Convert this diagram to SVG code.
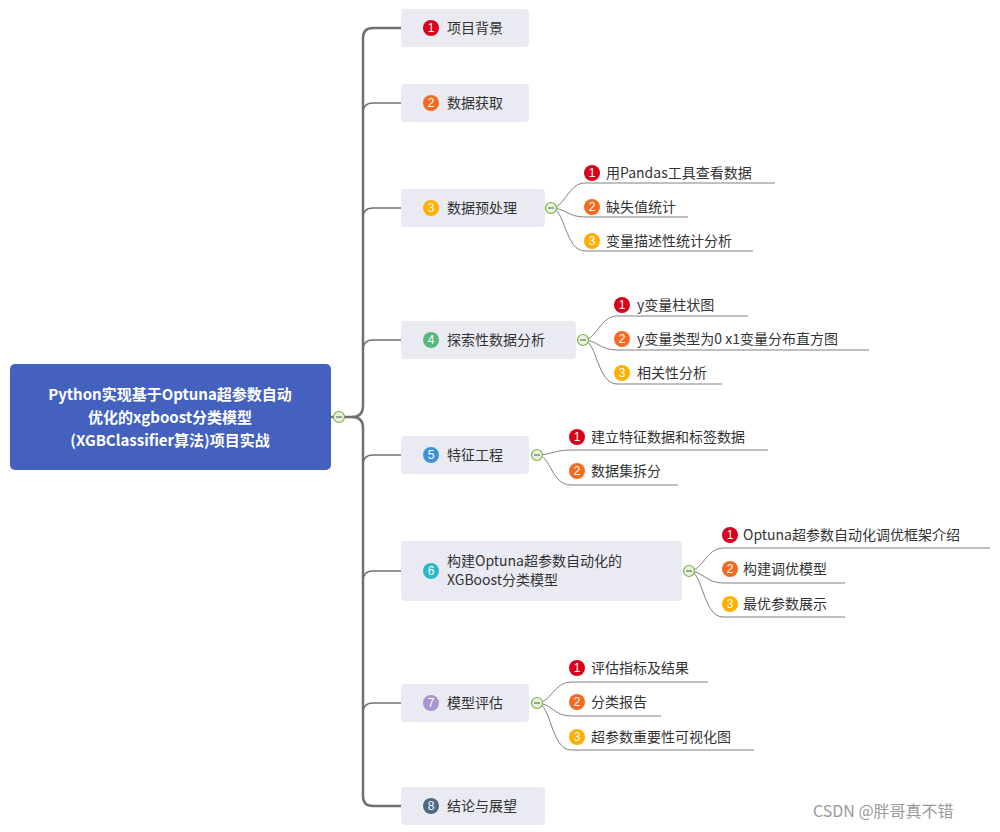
<svg xmlns="http://www.w3.org/2000/svg" width="1000" height="832" viewBox="0 0 1000 832">
<style>
text{font-family:"Noto Sans CJK SC","Liberation Sans",sans-serif;font-size:14px;fill:#333}
.box{fill:#e9eaf2}
.n{fill:#fff;font-size:12px;text-anchor:middle;font-family:"Liberation Sans",sans-serif}
.tr{fill:none;stroke:#707070;stroke-width:2.5}
.br{fill:none;stroke:#707070;stroke-width:1.5}
.ch{fill:none;stroke:#808080;stroke-width:1}
.col{fill:#e8f3dc;stroke:#7cb342;stroke-width:1.2}
</style>
<rect width="1000" height="832" fill="#fff"/>
<g id="connectors">
<path class="tr" d="M331,417 H352 Q363,417 363,406 V38 Q363,28 373,28 H401"/>
<path class="tr" d="M352,417 Q363,417 363,428 V796 Q363,806 373,806 H401"/>
<path class="br" d="M363,113 Q363,103 373,103 H401 M363,218 Q363,208 373,208 H401 M363,350 Q363,340 373,340 H401 M363,465 Q363,455 373,455 H401 M363,581 Q363,571 373,571 H401 M363,713 Q363,703 373,703 H401"/>
<path class="ch" d="M551,208 C565,208 568,183 585,183 H775 M551,208 C565,208 568,217 585,217 H688 M551,208 C565,208 565,251 585,251 H753"/>
<path class="ch" d="M583,340 C597,340 600,316 617,316 H748 M583,340 C597,340 600,350 617,350 H869 M583,340 C597,340 597,384 617,384 H722"/>
<path class="ch" d="M537,455 C551,455 554,450 571,450 H768 M537,455 C551,455 551,485 571,485 H678"/>
<path class="ch" d="M689,571 C703,571 706,548 723,548 H990 M689,571 C703,571 706,583 723,583 H845 M689,571 C703,571 703,617 723,617 H845"/>
<path class="ch" d="M537,703 C551,703 554,682 571,682 H708 M537,703 C551,703 554,716 571,716 H661 M537,703 C551,703 551,750 571,750 H754"/>
</g>
<g id="root">
<rect x="10" y="364" width="321" height="106" rx="5" fill="#4361bd"/>
<text x="170" y="400" text-anchor="middle" style="fill:#fff;font-weight:bold;font-size:15px">Python实现基于Optuna超参数自动</text>
<text x="170" y="423" text-anchor="middle" style="fill:#fff;font-weight:bold;font-size:15px">优化的xgboost分类模型</text>
<text x="170" y="446" text-anchor="middle" style="fill:#fff;font-weight:bold;font-size:15px">(XGBClassifier算法)项目实战</text>
<circle class="col" cx="339" cy="417" r="5.5"/><line x1="336" y1="417" x2="342" y2="417" stroke="#555"/>
</g>
<g id="n1"><rect class="box" x="401" y="9" width="128" height="38" rx="4"/><circle cx="431" cy="28" r="8" fill="#d9001b"/><text class="n" x="431" y="32">1</text><text x="447" y="33">项目背景</text></g>
<g id="n2"><rect class="box" x="401" y="84" width="128" height="38" rx="4"/><circle cx="431" cy="103" r="8" fill="#f26b21"/><text class="n" x="431" y="107">2</text><text x="447" y="108">数据获取</text></g>
<g id="n3"><rect class="box" x="401" y="189" width="144" height="38" rx="4"/><circle cx="431" cy="208" r="8" fill="#ffaf00"/><text class="n" x="431" y="212">3</text><text x="447" y="213">数据预处理</text>
<circle class="col" cx="551" cy="208" r="5.5"/><line x1="548" y1="208" x2="554" y2="208" stroke="#555"/></g>
<g id="n4"><rect class="box" x="401" y="321" width="175" height="38" rx="4"/><circle cx="431" cy="340" r="8" fill="#58b87c"/><text class="n" x="431" y="344">4</text><text x="447" y="345">探索性数据分析</text>
<circle class="col" cx="583" cy="340" r="5.5"/><line x1="580" y1="340" x2="586" y2="340" stroke="#555"/></g>
<g id="n5"><rect class="box" x="401" y="436" width="128" height="38" rx="4"/><circle cx="431" cy="455" r="8" fill="#3d93d9"/><text class="n" x="431" y="459">5</text><text x="447" y="460">特征工程</text>
<circle class="col" cx="537" cy="455" r="5.5"/><line x1="534" y1="455" x2="540" y2="455" stroke="#555"/></g>
<g id="n6"><rect class="box" x="401" y="541" width="281" height="60" rx="4"/><circle cx="431" cy="571" r="8" fill="#2bb7c7"/><text class="n" x="431" y="575">6</text><text x="447" y="566">构建Optuna超参数自动化的</text><text x="447" y="585">XGBoost分类模型</text>
<circle class="col" cx="689" cy="571" r="5.5"/><line x1="686" y1="571" x2="692" y2="571" stroke="#555"/></g>
<g id="n7"><rect class="box" x="401" y="684" width="128" height="38" rx="4"/><circle cx="431" cy="703" r="8" fill="#a895cf"/><text class="n" x="431" y="707">7</text><text x="447" y="708">模型评估</text>
<circle class="col" cx="537" cy="703" r="5.5"/><line x1="534" y1="703" x2="540" y2="703" stroke="#555"/></g>
<g id="n8"><rect class="box" x="401" y="787" width="144" height="38" rx="4"/><circle cx="431" cy="806" r="8" fill="#4d6a85"/><text class="n" x="431" y="810">8</text><text x="447" y="811">结论与展望</text></g>
<g id="c3">
<circle cx="592" cy="173" r="8" fill="#d9001b"/><text class="n" x="592" y="177">1</text><text x="606" y="178">用Pandas工具查看数据</text>
<circle cx="592" cy="207" r="8" fill="#f26b21"/><text class="n" x="592" y="211">2</text><text x="606" y="212">缺失值统计</text>
<circle cx="592" cy="241" r="8" fill="#ffaf00"/><text class="n" x="592" y="245">3</text><text x="606" y="246">变量描述性统计分析</text>
</g>
<g id="c4">
<circle cx="622" cy="305" r="8" fill="#d9001b"/><text class="n" x="622" y="309">1</text><text x="637" y="310">y变量柱状图</text>
<circle cx="622" cy="339" r="8" fill="#f26b21"/><text class="n" x="622" y="343">2</text><text x="637" y="344">y变量类型为0 x1变量分布直方图</text>
<circle cx="622" cy="373" r="8" fill="#ffaf00"/><text class="n" x="622" y="377">3</text><text x="637" y="378">相关性分析</text>
</g>
<g id="c5">
<circle cx="577" cy="437" r="8" fill="#d9001b"/><text class="n" x="577" y="441">1</text><text x="591" y="442">建立特征数据和标签数据</text>
<circle cx="577" cy="471" r="8" fill="#f26b21"/><text class="n" x="577" y="475">2</text><text x="591" y="476">数据集拆分</text>
</g>
<g id="c6">
<circle cx="730" cy="535" r="8" fill="#d9001b"/><text class="n" x="730" y="539">1</text><text x="743" y="540">Optuna超参数自动化调优框架介绍</text>
<circle cx="730" cy="569" r="8" fill="#f26b21"/><text class="n" x="730" y="573">2</text><text x="743" y="574">构建调优模型</text>
<circle cx="730" cy="604" r="8" fill="#ffaf00"/><text class="n" x="730" y="608">3</text><text x="743" y="609">最优参数展示</text>
</g>
<g id="c7">
<circle cx="577" cy="668" r="8" fill="#d9001b"/><text class="n" x="577" y="672">1</text><text x="591" y="673">评估指标及结果</text>
<circle cx="577" cy="702" r="8" fill="#f26b21"/><text class="n" x="577" y="706">2</text><text x="591" y="707">分类报告</text>
<circle cx="577" cy="737" r="8" fill="#ffaf00"/><text class="n" x="577" y="741">3</text><text x="591" y="742">超参数重要性可视化图</text>
</g>
<text x="813" y="817" style="fill:#999;font-size:16px">CSDN @胖哥真不错</text>
</svg>
